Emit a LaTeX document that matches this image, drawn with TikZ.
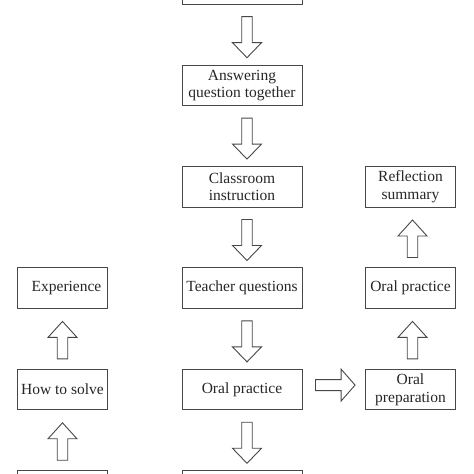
\documentclass[tikz,border=0pt]{standalone}
\usepackage{fontspec}
\setmainfont{Liberation Serif}
\usetikzlibrary{calc}
\tikzset{
  box/.style={draw=black!72, line width=0.9pt, minimum height=40.5pt, inner sep=0pt,
    font=\fontsize{15.5}{17.5}\selectfont, text=black!85, align=center},
  cbox/.style={box, minimum width=120pt},
  sbox/.style={box, minimum width=90pt},
  blk/.style={draw=black!72, line width=0.9pt, fill=white, line join=miter}
}
\newcommand\downblk[3]{%
  \draw[blk] let \p1=(#1.south), \p2=(#2.north) in
    (\x1+#3-5.25,\y1-12) -- (\x1+#3+5.25,\y1-12) -- (\x1+#3+5.25,\y2+22) --
    (\x1+#3+14.5,\y2+22) -- (\x1+#3,\y2+7) -- (\x1+#3-14.5,\y2+22) --
    (\x1+#3-5.25,\y2+22) -- cycle;}
\newcommand\upblk[3]{%
  \draw[blk] let \p1=(#1.north), \p2=(#2.south) in
    (\x1+#3-5.25,\y1+10) -- (\x1+#3+5.25,\y1+10) -- (\x1+#3+5.25,\y2-28.5) --
    (\x1+#3+14.5,\y2-28.5) -- (\x1+#3,\y2-12.5) -- (\x1+#3-14.5,\y2-28.5) --
    (\x1+#3-5.25,\y2-28.5) -- cycle;}
\begin{document}
\begin{tikzpicture}[x=1pt,y=1pt]
\useasboundingbox (0,0) rectangle (474,474);
\clip (0,0) rectangle (474,474);
% centre column
\node[cbox] (top) at (242,490) {};
\node[cbox] (ans) at (242,388.6) {Answering\\question together};
\node[cbox] (cls) at (242,287.2) {Classroom\\instruction};
\node[cbox] (tq)  at (242,185.8) {Teacher questions};
\node[cbox] (op)  at (242,84.4) {Oral practice};
\node[cbox] (bc)  at (242,-17) {};
% left column
\node[sbox] (exp) at (62.5,185.8) {\hspace*{8pt}Experience};
\node[sbox] (hts) at (62.5,84.4) {How to solve};
\node[sbox] (bl)  at (62.5,-17) {};
% right column
\node[sbox] (ref) at (410.5,287.2) {Reflection\\summary};
\node[sbox] (op2) at (410.5,185.8) {Oral practice};
\node[sbox] (prep) at (410.5,84.4) {Oral\\preparation};
% centre arrows
\downblk{top}{ans}{5}
\downblk{ans}{cls}{5}
\downblk{cls}{tq}{5}
\downblk{tq}{op}{5}
\downblk{op}{bc}{5}
% left arrows
\upblk{bl}{hts}{0}
\upblk{hts}{exp}{0}
% right arrows
\upblk{prep}{op2}{2}
\upblk{op2}{ref}{2}
% horizontal arrow
\draw[blk] let \p1=(op.east), \p2=(prep.west) in
  (\x1+13,\y1+10) -- (\x2-24,\y1+10) -- (\x2-24,\y1+20.5) -- (\x2-10,\y1+4.5) --
  (\x2-24,\y1-11.5) -- (\x2-24,\y1-1) -- (\x1+13,\y1-1) -- cycle;
\end{tikzpicture}
\end{document}
